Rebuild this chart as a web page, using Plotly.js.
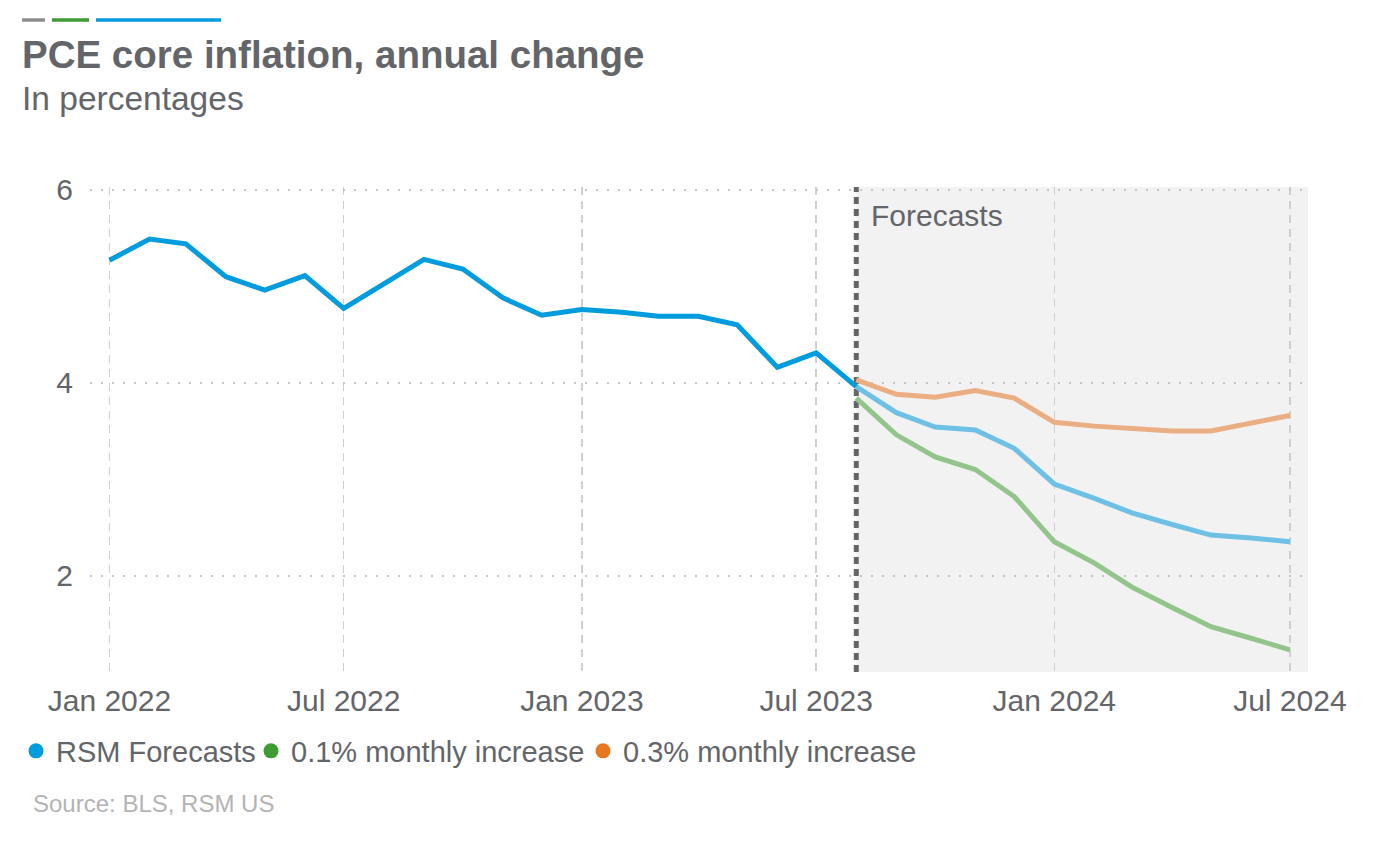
<!DOCTYPE html>
<html>
<head>
<meta charset="utf-8">
<script src="https://cdn.plot.ly/plotly-3.0.1.min.js"></script>
<style>
  html, body { margin: 0; padding: 0; background: #ffffff; }
  #chart { width: 1382px; height: 845px; }
</style>
</head>
<body>
<div id="chart"></div>
<script>
// ---- Data ----
const histMonths = ['2022-01-01','2022-02-01','2022-03-01','2022-04-01','2022-05-01','2022-06-01',
  '2022-07-01','2022-08-01','2022-09-01','2022-10-01','2022-11-01','2022-12-01',
  '2023-01-01','2023-02-01','2023-03-01','2023-04-01','2023-05-01','2023-06-01',
  '2023-07-01','2023-08-01'];
const histValues = [5.27,5.49,5.44,5.10,4.96,5.11,4.77,5.03,5.28,5.18,4.88,4.70,
  4.76,4.73,4.69,4.69,4.60,4.16,4.31,3.96];

const fcMonths = ['2023-08-01','2023-09-01','2023-10-01','2023-11-01','2023-12-01',
  '2024-01-01','2024-02-01','2024-03-01','2024-04-01','2024-05-01','2024-06-01','2024-07-01'];
const rsmForecast = [3.96,3.69,3.54,3.51,3.32,2.95,2.80,2.65,2.53,2.42,2.39,2.35];
const monthly01 = [3.84,3.46,3.23,3.10,2.82,2.35,2.13,1.88,1.67,1.47,1.35,1.23];
const monthly03 = [4.03,3.88,3.85,3.92,3.84,3.59,3.55,3.52,3.50,3.50,3.58,3.66];

const tickDates = ['2022-01-01','2022-07-01','2023-01-01','2023-07-01','2024-01-01','2024-07-01'];
const tickLabels = ['Jan 2022','Jul 2022','Jan 2023','Jul 2023','Jan 2024','Jul 2024'];
const yTicks = [2, 4, 6];
const seriesNames = ['RSM Forecasts', '0.1% monthly increase', '0.3% monthly increase'];

const forecastStart = '2023-08-01';
const xRange = ['2021-12-17', '2024-07-15'];
const yRange = [1, 6.03];

// ---- Styling ----
const FONT = 'Liberation Sans, Arial, Helvetica, sans-serif';
const TXT = '#636569';
const BLUE = '#009CDE', GREEN = '#3F9C35', ORANGE = '#E87722';
const BLUE_L = '#6EC0E4', GREEN_L = '#93C48B', ORANGE_L = '#EBAD82';

// plot area in pixels
const L = 90, R = 1308, T = 187, B = 672;
const fx = px => (px - L) / (R - L);
const fy = py => (B - py) / (B - T);

const traces = [
  { x: fcMonths, y: monthly01, mode: 'lines', line: { color: GREEN_L, width: 5 }, showlegend: false, hoverinfo: 'skip' },
  { x: fcMonths, y: monthly03, mode: 'lines', line: { color: ORANGE_L, width: 5 }, showlegend: false, hoverinfo: 'skip' },
  { x: fcMonths, y: rsmForecast, mode: 'lines', line: { color: BLUE_L, width: 5 }, showlegend: false, hoverinfo: 'skip' },
  { x: histMonths, y: histValues, mode: 'lines', line: { color: BLUE, width: 5 }, showlegend: false, hoverinfo: 'skip' },
  // legend entries
  { x: [null], y: [null], mode: 'markers', name: seriesNames[0], marker: { color: BLUE, size: 15 }, legend: 'legend' },
  { x: [null], y: [null], mode: 'markers', name: seriesNames[1], marker: { color: GREEN, size: 15 }, legend: 'legend2' },
  { x: [null], y: [null], mode: 'markers', name: seriesNames[2], marker: { color: ORANGE, size: 15 }, legend: 'legend3' }
];

function legendAt(px) {
  return {
    orientation: 'h', x: fx(px), xanchor: 'left', y: fy(751), yanchor: 'middle',
    font: { family: FONT, size: 29, color: TXT }, bgcolor: 'rgba(0,0,0,0)',
    itemclick: false, itemdoubleclick: false
  };
}

const layout = {
  width: 1382, height: 845,
  margin: { l: L, r: 1382 - R, t: T, b: 845 - B, pad: 0 },
  paper_bgcolor: '#ffffff', plot_bgcolor: '#ffffff',
  font: { family: FONT, color: TXT },
  hovermode: false,
  xaxis: {
    type: 'date', range: xRange, tickvals: tickDates, ticktext: tickLabels,
    showgrid: true, gridcolor: '#cfcfcf', gridwidth: 1.5, griddash: '8px,6px',
    zeroline: false, showline: false, ticks: '', ticklabelstandoff: 8,
    tickfont: { family: FONT, size: 30, color: TXT }
  },
  yaxis: {
    range: yRange, tickvals: yTicks, ticktext: yTicks.map(String),
    showgrid: true, gridcolor: '#c4c4c4', gridwidth: 2, griddash: '2px,9px',
    zeroline: false, showline: false, ticks: '', ticklabelstandoff: 16,
    tickfont: { family: FONT, size: 30, color: TXT }
  },
  legend: legendAt(16),
  legend2: legendAt(251),
  legend3: legendAt(583),
  shapes: [
    { type: 'rect', layer: 'below', xref: 'x', yref: 'paper', x0: forecastStart, x1: xRange[1], y0: 0, y1: 1,
      fillcolor: '#f2f2f2', line: { width: 0 } },
    { type: 'line', layer: 'between', xref: 'x', yref: 'paper', x0: forecastStart, x1: forecastStart, y0: 0, y1: 1,
      line: { color: '#636569', width: 5, dash: '7px,5px' } },
    // decorative bars at the top
    { type: 'line', xref: 'paper', yref: 'paper', x0: fx(22), x1: fx(45), y0: fy(20), y1: fy(20), line: { color: '#8A8C8E', width: 3.5 } },
    { type: 'line', xref: 'paper', yref: 'paper', x0: fx(52), x1: fx(89), y0: fy(20), y1: fy(20), line: { color: GREEN, width: 3.5 } },
    { type: 'line', xref: 'paper', yref: 'paper', x0: fx(96), x1: fx(221), y0: fy(20), y1: fy(20), line: { color: BLUE, width: 3.5 } }
  ],
  annotations: [
    { text: '<b>PCE core inflation, annual change</b>', xref: 'paper', yref: 'paper', x: fx(20), y: fy(54),
      xanchor: 'left', yanchor: 'middle', showarrow: false, font: { family: FONT, size: 38.5, color: TXT } },
    { text: 'In percentages', xref: 'paper', yref: 'paper', x: fx(20), y: fy(99),
      xanchor: 'left', yanchor: 'middle', showarrow: false, font: { family: FONT, size: 33.5, color: TXT } },
    { text: 'Forecasts', xref: 'paper', yref: 'paper', x: fx(869), y: fy(215),
      xanchor: 'left', yanchor: 'middle', showarrow: false, font: { family: FONT, size: 30, color: TXT } },
    { text: 'Source: BLS, RSM US', xref: 'paper', yref: 'paper', x: fx(31), y: fy(803),
      xanchor: 'left', yanchor: 'middle', showarrow: false, font: { family: FONT, size: 24, color: '#B3B3B3' } }
  ]
};

Plotly.newPlot('chart', traces, layout, { displayModeBar: false, staticPlot: true });
</script>
</body>
</html>
